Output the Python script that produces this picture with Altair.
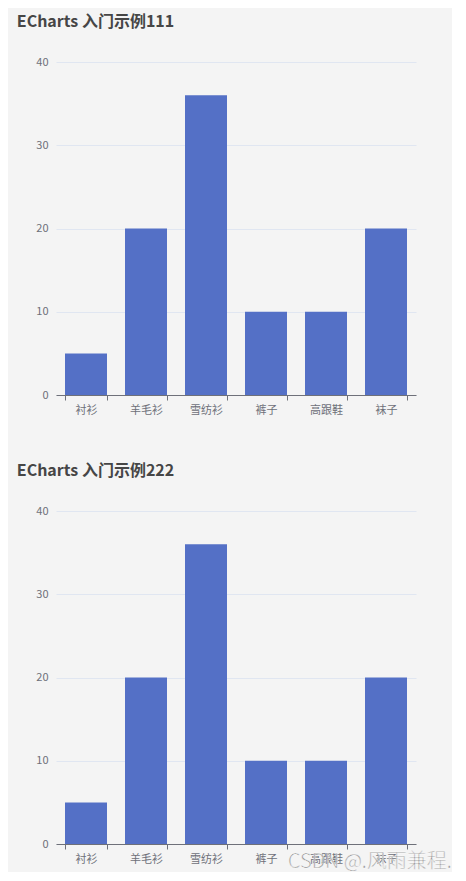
import altair as alt
import pandas as pd

categories = ["衬衫", "羊毛衫", "雪纺衫", "裤子", "高跟鞋", "袜子"]
sales_1 = [5, 20, 36, 10, 10, 20]
sales_2 = [5, 20, 36, 10, 10, 20]
titles = ["ECharts 入门示例111", "ECharts 入门示例222"]
y_ticks = [0, 10, 20, 30, 40]
watermark = "CSDN @.风雨兼程."

FONT = "Noto Sans CJK SC"
BAR = "#5470c6"
BG = "#f4f4f4"


def make_chart(title, values, with_mark=False):
    df = pd.DataFrame({"category": categories, "value": values})
    base = alt.Chart(df)
    bars = base.mark_bar(color=BAR).encode(
        x=alt.X(
            "category:N",
            sort=categories,
            scale=alt.Scale(paddingInner=0.3, paddingOuter=0.15),
            axis=alt.Axis(
                title=None,
                labelAngle=0,
                labelColor="#6e7079",
                labelFontSize=11,
                labelFont=FONT,
                labelPadding=4,
                domainColor="#6e7079",
                tickColor="#6e7079",
                tickSize=5,
                tickBand="extent",
                grid=False,
            ),
        ),
        y=alt.Y(
            "value:Q",
            scale=alt.Scale(domain=[0, 40]),
            axis=alt.Axis(
                title=None,
                values=y_ticks,
                labelColor="#6e7079",
                labelFontSize=11,
                labelFont=FONT,
                labelPadding=8,
                domain=False,
                ticks=False,
                grid=True,
                gridColor="#e0e6f1",
            ),
        ),
    )
    layers = [bars]
    if with_mark:
        wm = alt.Chart(pd.DataFrame({"t": [watermark]})).mark_text(
            align="left", baseline="middle", fontSize=20, font=FONT,
            fontWeight=300, color="#808080", stroke="#ffffff",
            strokeWidth=0.4,
        ).encode(x=alt.value(232), y=alt.value(351), text="t:N")
        layers.append(wm)
    return alt.layer(*layers).properties(
        width=360,
        height=333,
        title=alt.TitleParams(
            title, anchor="start", dx=-19, fontSize=16, font=FONT,
            fontWeight="bold", color="#464646", offset=26,
        ),
    )


chart = alt.vconcat(
    make_chart(titles[0], sales_1),
    make_chart(titles[1], sales_2, with_mark=True),
    spacing=48,
).configure(
    background=BG,
    padding={"left": 8, "top": 6, "right": 0, "bottom": 0},
).configure_view(stroke=None)

chart.save("out.html", embed_options={"renderer": "svg", "actions": False})
